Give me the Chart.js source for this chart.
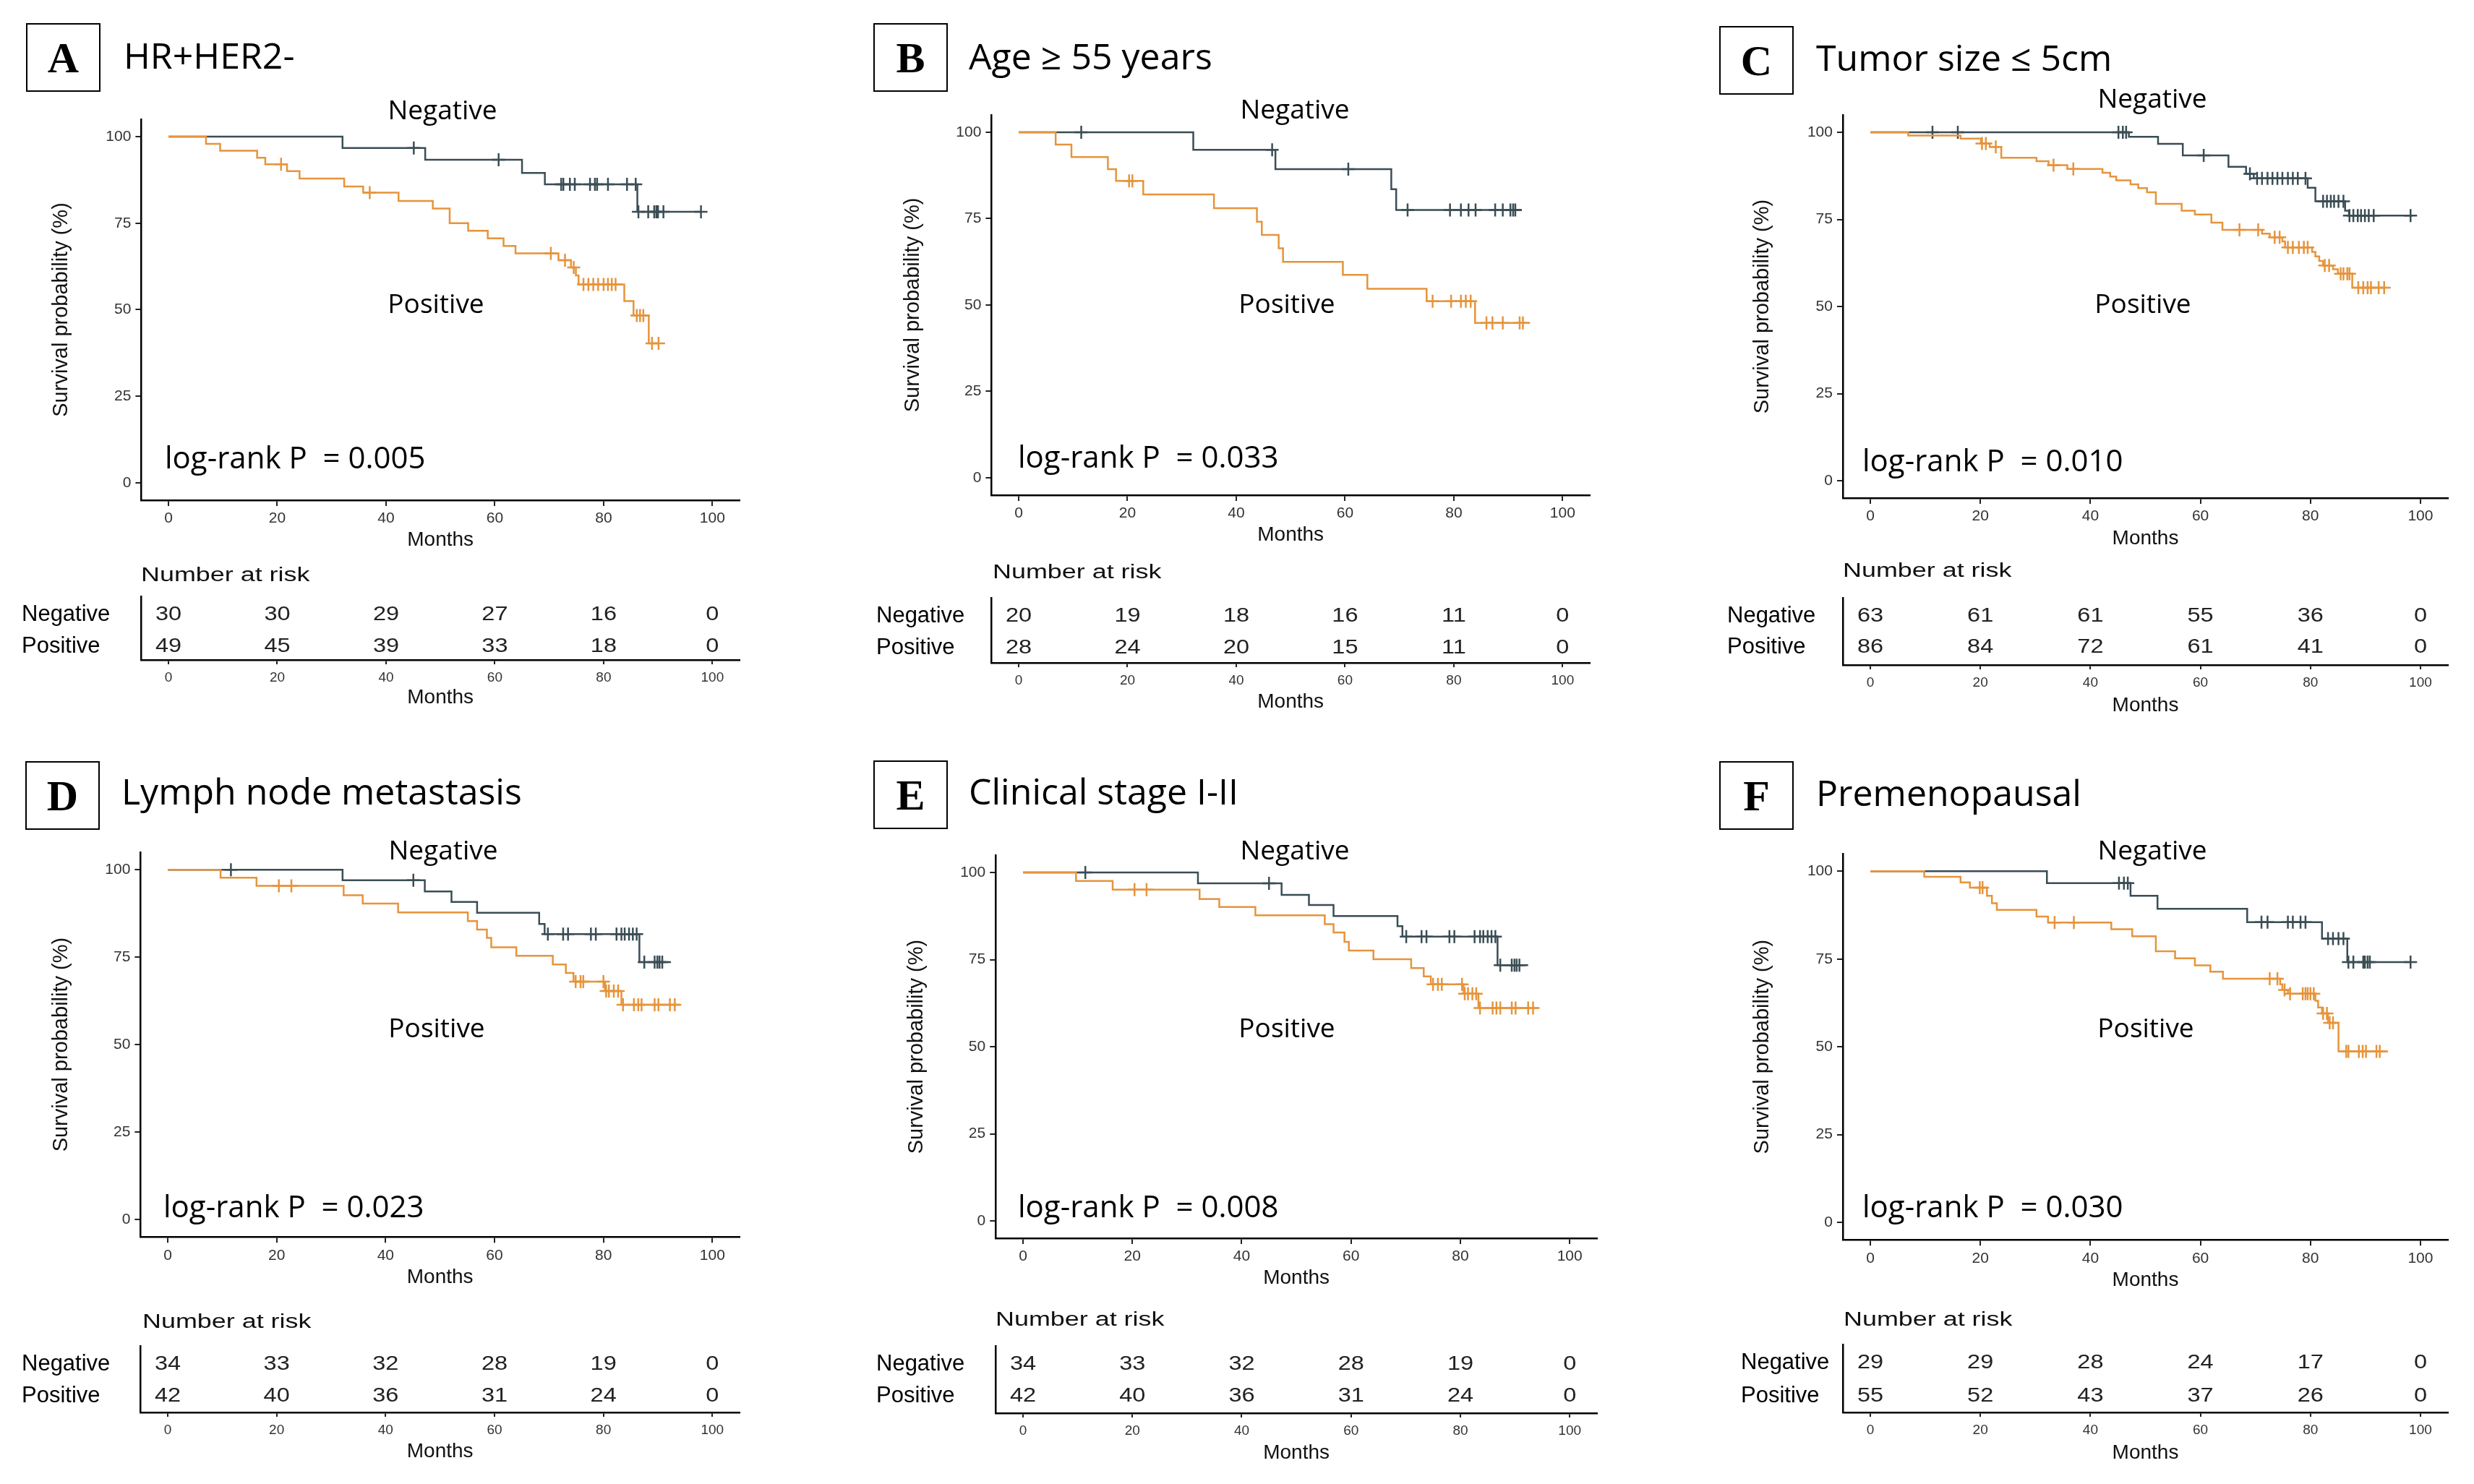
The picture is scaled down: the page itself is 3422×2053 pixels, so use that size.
<!DOCTYPE html>
<html><head><meta charset="utf-8">
<script src="https://cdn.jsdelivr.net/npm/chart.js@4.4.1/dist/chart.umd.min.js"></script>
<style>
html,body{margin:0;padding:0;background:#fff;}
#root{position:relative;width:3422px;height:2053px;overflow:hidden;background:#fff;}
.t{position:absolute;white-space:pre;color:#000;line-height:1;}
.box{position:absolute;border:2.5px solid #000;box-sizing:border-box;display:flex;align-items:center;justify-content:center;font-family:"Liberation Serif";font-weight:bold;font-size:60px;color:#000;line-height:1;}
.title{font-family:"Open Sans";font-size:50px;transform:translateY(-50%);}
.ann{font-family:"Open Sans";font-size:37px;transform:translate(-50%,-50%);}
.lr{font-family:"Open Sans";font-size:42px;transform:translateY(-50%);}
.nar{font-family:"Liberation Sans";font-size:27px;transform-origin:0 50%;transform:translateY(-50%) scaleX(1.33);color:#111;}
canvas{position:absolute;}
</style></head><body><div id="root"></div>
<script>
// ---------- data ----------
const panelLetters = ['A','B','C','D','E','F'];
const panelTitles = ['HR+HER2-','Age \u2265 55 years','Tumor size \u2264 5cm','Lymph node metastasis','Clinical stage I-II','Premenopausal'];
const logRankP = ['0.005','0.033','0.010','0.023','0.008','0.030'];
const groupNames = ['Negative','Positive'];
const xTicks = [0,20,40,60,80,100];
const yTicks = [0,25,50,75,100];
const riskTimes = [0,20,40,60,80,100];

const riskNeg = [[30,30,29,27,16,0],[20,19,18,16,11,0],[63,61,61,55,36,0],[34,33,32,28,19,0],[34,33,32,28,19,0],[29,29,28,24,17,0]];
const riskPos = [[49,45,39,33,18,0],[28,24,20,15,11,0],[86,84,72,61,41,0],[42,40,36,31,24,0],[42,40,36,31,24,0],[55,52,43,37,26,0]];

// Panel A
const negTimesA = [32.0,47.2,65.0,69.2,86.2];
const negSurvA  = [96.7,93.3,89.5,86.2,78.3];
const negCensA  = [45.1,60.7,72.2,72.6,73.8,74.7,77.5,78.4,78.8,80.8,84.3,85.9,86.4,88.2,89.3,89.7,90.0,91.0,97.9];
const negEndA = 97.9;
const posTimesA = [6.9,9.5,16.3,17.8,21.8,24.1,32.3,35.8,42.3,48.6,51.7,55.1,58.7,61.6,63.8,71.7,74.0,74.9,75.4,83.8,85.5,88.3];
const posSurvA  = [97.9,95.9,93.9,92.0,90.0,87.9,85.6,83.8,81.4,79.2,75.0,72.8,70.6,68.4,66.3,64.3,62.2,59.9,57.3,52.5,48.3,40.3];
const posCensA  = [20.7,37.0,70.3,72.9,74.5,76.3,77.2,78.1,79.0,80.0,80.8,81.5,82.2,86.1,86.7,87.3,88.9,90.1];
const posEndA = 90.1;
// Panel B
const negTimesB = [32.1,47.2,68.5,69.4];
const negSurvB  = [94.9,89.3,83.5,77.5];
const negCensB  = [11.5,46.6,60.6,71.5,79.3,81.3,82.7,84.0,87.6,89.0,90.4,90.9,91.3];
const negEndB = 92.5;
const posTimesB = [6.8,9.7,16.4,17.9,22.9,35.9,43.8,44.7,47.8,48.6,59.6,64.1,75.0,83.9];
const posSurvB  = [96.4,92.8,89.3,85.9,82.0,78.0,74.1,70.3,66.4,62.5,58.7,54.7,51.1,44.8];
const posCensB  = [20.3,20.9,76.1,79.5,81.3,82.2,83.1,86.0,87.1,89.0,92.1,92.7];
const posEndB = 94.0;
// Panel C
const negTimesC = [47.0,52.3,56.8,65.1,68.3,69.7,79.5,80.9,86.3,87.0];
const negSurvC  = [98.7,96.7,93.4,90.1,88.1,86.8,84.1,80.2,77.5,76.1];
const negCensC  = [11.3,15.9,45.1,45.9,46.5,60.6,69.0,70.3,71.2,72.2,73.1,74.0,74.9,75.9,76.8,77.7,79.1,82.3,83.0,83.7,84.3,85.1,86.0,87.1,87.8,88.6,89.2,89.9,90.6,91.5,98.2];
const negEndC = 98.6;
const posTimesC = [6.9,16.4,20.1,21.7,23.8,30.2,32.4,35.8,42.2,43.6,44.7,47.3,48.7,50.3,51.9,56.6,59.0,62.0,64.0,71.2,72.6,74.9,75.4,80.3,80.9,81.6,82.3,84.1,85.0,87.6];
const posSurvC  = [99.1,98.2,96.8,95.8,92.7,91.7,90.6,89.5,88.4,87.3,86.2,85.1,84.0,82.8,79.5,77.5,76.4,74.1,72.0,70.9,69.9,68.7,67.0,65.7,64.4,63.1,61.8,60.7,59.4,55.4];
const posCensC  = [20.3,21.0,22.8,33.3,36.9,67.1,70.5,73.5,74.4,75.9,76.8,77.9,78.8,79.5,82.6,83.4,85.5,86.0,86.7,87.1,88.7,89.6,90.4,91.0,92.4,93.4];
const posEndC = 93.9;
// Panel D
const negTimesD = [32.1,47.2,52.1,56.8,68.2,69.2,86.6];
const negSurvD  = [97.0,93.8,90.8,87.7,84.5,81.6,73.6];
const negCensD  = [11.6,45.1,69.8,72.6,73.5,77.7,78.6,82.4,83.3,83.9,84.7,85.4,86.1,87.5,89.4,89.9,90.3,90.8];
const negEndD = 92.4;
const posTimesD = [9.7,16.3,32.3,35.8,42.3,55.1,56.8,58.6,59.4,64.0,70.7,73.1,74.5,80.3,83.3];
const posSurvD  = [97.7,95.4,92.7,90.3,87.8,85.3,82.9,80.5,77.8,75.4,72.9,70.5,68.0,65.3,61.4];
const posCensD  = [20.4,22.7,74.9,75.8,76.3,80.0,80.5,81.0,81.9,82.7,83.6,85.6,86.4,87.0,89.4,90.1,92.2,93.1];
const posEndD = 94.0;
// Panel E
const negTimesE = [32.0,47.3,52.3,56.8,68.5,69.4,86.8];
const negSurvE  = [96.9,93.6,90.7,87.5,84.6,81.6,73.4];
const negCensE  = [11.4,45.0,70.1,72.9,73.8,78.0,78.9,82.6,83.6,84.2,85.0,85.7,86.4,87.3,89.4,89.9,90.3,90.8];
const negEndE = 92.4;
const posTimesE = [9.7,16.4,32.3,35.9,42.5,55.2,56.8,58.8,59.6,64.1,71.0,73.3,74.6,80.6,83.3];
const posSurvE  = [97.6,95.1,92.4,90.1,87.7,85.2,82.8,80.1,77.6,75.1,72.6,70.2,67.9,65.2,61.1];
const posCensE  = [20.4,22.6,75.0,75.9,76.6,80.3,80.8,81.4,82.2,82.9,83.6,85.9,86.6,87.3,89.4,90.1,92.4,93.3];
const posEndE = 94.2;
// Panel F
const negTimesF = [32.1,47.3,52.2,68.5,82.1,86.7];
const negSurvF  = [96.6,93.0,89.3,85.5,80.8,74.1];
const negCensF  = [45.2,46.1,46.8,71.1,72.2,75.9,76.8,78.2,79.1,83.2,84.1,85.1,86.0,86.9,87.8,89.6,89.9,90.4,90.8,98.2];
const negEndF = 98.2;
const posTimesF = [9.8,16.4,18.1,21.2,22.1,23.0,30.2,32.3,43.8,47.6,51.9,55.4,59.0,61.8,64.1,74.5,74.9,75.9,80.9,81.4,82.1,83.2,85.1];
const posSurvF  = [98.4,96.8,95.3,93.0,90.9,89.0,87.1,85.4,83.5,81.5,77.2,75.2,73.2,71.4,69.4,67.8,66.2,65.1,63.1,61.2,59.5,56.8,48.7];
const posCensF  = [19.9,20.4,33.5,37.0,72.6,74.0,75.3,76.3,78.6,79.1,79.5,80.0,80.6,82.3,83.0,83.5,84.1,86.5,86.9,88.8,89.5,90.1,92.0,92.6];
const posEndF = 94.1;

const negTimes = [negTimesA,negTimesB,negTimesC,negTimesD,negTimesE,negTimesF];
const negSurv  = [negSurvA,negSurvB,negSurvC,negSurvD,negSurvE,negSurvF];
const negCens  = [negCensA,negCensB,negCensC,negCensD,negCensE,negCensF];
const negEnd   = [negEndA,negEndB,negEndC,negEndD,negEndE,negEndF];
const posTimes = [posTimesA,posTimesB,posTimesC,posTimesD,posTimesE,posTimesF];
const posSurv  = [posSurvA,posSurvB,posSurvC,posSurvD,posSurvE,posSurvF];
const posCens  = [posCensA,posCensB,posCensC,posCensD,posCensE,posCensF];
const posEnd   = [posEndA,posEndB,posEndC,posEndD,posEndE,posEndF];

// ---------- layout (pixels) ----------
const geo = [
 {x0:233,x100:985,y100:189,y0:668,yT:85,box:[36,32],tX:171,tY:76,neg:[612,150],pos:[603,418],lr:[228,632],mY:747,narX:195,narY:795,rlX:30,rN:850,rP:894,tl:913,tm:965},
 {x0:1409,x100:2161,y100:183,y0:661,yT:1263,box:[1208,32],tX:1340,tY:77,neg:[1791,149],pos:[1780,418],lr:[1408,631],mY:740,narX:1373,narY:791,rlX:1212,rN:852,rP:896,tl:917,tm:971},
 {x0:2587,x100:3348,y100:183,y0:665,yT:2438,box:[2378,36],tX:2512,tY:79,neg:[2977,134],pos:[2964,418],lr:[2576,636],mY:745,narX:2549,narY:789,rlX:2389,rN:852,rP:895,tl:920,tm:976},
 {x0:232,x100:985,y100:1203,y0:1687,yT:85,box:[35,1053],tX:168,tY:1094,neg:[613,1174],pos:[604,1420],lr:[226,1668],mY:1767,narX:197,narY:1828,rlX:30,rN:1887,rP:1931,tl:1954,tm:2008},
 {x0:1415,x100:2171,y100:1207,y0:1689,yT:1268,box:[1208,1052],tX:1340,tY:1094,neg:[1791,1174],pos:[1780,1420],lr:[1408,1668],mY:1768,narX:1377,narY:1825,rlX:1212,rN:1887,rP:1931,tl:1955,tm:2010},
 {x0:2587,x100:3348,y100:1205,y0:1691,yT:2438,box:[2378,1053],tX:2512,tY:1096,neg:[2977,1174],pos:[2968,1420],lr:[2576,1668],mY:1771,narX:2550,narY:1825,rlX:2408,rN:1885,rP:1931,tl:1954,tm:2010}
];
const NEG_COLOR = '#3a4d55';
const POS_COLOR = '#e6943c';
const TOP_PAD = 32; // room so Chart.js label padding never shifts the plot area
const root = document.getElementById('root');

function addText(cls, txt, x, y){
  const d = document.createElement('div');
  d.className = 't ' + cls; d.textContent = txt;
  d.style.left = x + 'px'; d.style.top = y + 'px';
  root.appendChild(d); return d;
}
function makeCanvas(l,t,w,h){
  const c = document.createElement('canvas');
  c.width = Math.round(w); c.height = Math.round(h);
  c.style.left = Math.round(l)+'px'; c.style.top = Math.round(t)+'px';
  c.style.width = Math.round(w)+'px'; c.style.height = Math.round(h)+'px';
  root.appendChild(c); return c;
}
function survAt(times, surv, t){ let s = 100; for (let k=0;k<times.length;k++){ if (times[k] <= t) s = surv[k]; } return s; }
function stepPts(times, surv, end){
  const p = [{x:0,y:100}];
  times.forEach((t,k)=>p.push({x:t,y:surv[k]}));
  p.push({x:end,y:surv[surv.length-1]});
  return p;
}
function censPts(times, surv, cens){ return cens.map(t=>({x:t,y:survAt(times,surv,t)})); }

function axisCommon(tickLen){
  return {
    border:{display:true,color:'#000',width:2.5},
    grid:{display:true,drawOnChartArea:false,drawTicks:true,tickLength:tickLen,color:'#222',lineWidth:2},
  };
}

function kmChart(i){
  const g = geo[i];
  const sx = (g.x100-g.x0)/100, sy = (g.y0-g.y100)/100;
  const aL = g.x0-5*sx, aR = g.x100+5*sx, aT = g.y100-5*sy, aB = g.y0+5*sy;
  const cL = g.yT-30, cT = aT-TOP_PAD, cR = aR+15, cB = g.mY+25;
  const cv = makeCanvas(cL,cT,cR-cL,cB-cT);
  const titleFont = {family:'Liberation Sans',size:29};
  new Chart(cv,{
    type:'line',
    data:{datasets:[
      {data:stepPts(posTimes[i],posSurv[i],posEnd[i]),borderColor:POS_COLOR,borderWidth:2.5,pointRadius:0,stepped:'before',fill:false},
      {data:censPts(posTimes[i],posSurv[i],posCens[i]),showLine:false,pointStyle:'cross',pointRadius:9,pointBorderWidth:2.5,borderColor:POS_COLOR,pointBorderColor:POS_COLOR},
      {data:stepPts(negTimes[i],negSurv[i],negEnd[i]),borderColor:NEG_COLOR,borderWidth:2.5,pointRadius:0,stepped:'before',fill:false},
      {data:censPts(negTimes[i],negSurv[i],negCens[i]),showLine:false,pointStyle:'cross',pointRadius:9,pointBorderWidth:2.5,borderColor:NEG_COLOR,pointBorderColor:NEG_COLOR}
    ]},
    options:{
      responsive:false,animation:false,devicePixelRatio:1,
      layout:{padding:{left:0,top:TOP_PAD,right:cR-aR,bottom:0}},
      plugins:{legend:{display:false},tooltip:{enabled:false}},
      elements:{line:{tension:0}},
      scales:{
        x:Object.assign(axisCommon(8),{type:'linear',min:-5,max:105,
          afterBuildTicks:s=>{s.ticks = xTicks.map(v=>({value:v}));},
          afterFit:s=>{s.height = cB-aB;},
          ticks:{font:{family:'Liberation Sans',size:21},color:'#333',padding:5,maxRotation:0,autoSkip:false},
          title:{display:true,text:'Months',font:{family:'Liberation Sans',size:28},color:'#111',padding:{top:0,bottom:25-28*0.6}}}),
        y:Object.assign(axisCommon(8),{type:'linear',min:-5,max:105,
          afterBuildTicks:s=>{s.ticks = yTicks.map(v=>({value:v}));},
          afterFit:s=>{s.width = aL-cL;},
          ticks:{font:{family:'Liberation Sans',size:21},color:'#333',padding:6,autoSkip:false},
          title:{display:true,text:'Survival probability (%)',font:titleFont,color:'#111',padding:{top:30-titleFont.size*0.6,bottom:0}}})
      }
    }
  });
}

const riskLabelPlugin = {
  id:'riskLabels',
  afterDatasetsDraw(chart){
    const ctx = chart.ctx;
    chart.data.datasets.forEach((ds,di)=>{
      const meta = chart.getDatasetMeta(di);
      meta.data.forEach((el,k)=>{
        ctx.save();
        ctx.font = '28px "Liberation Sans"';
        ctx.fillStyle = '#222'; ctx.textAlign = 'center'; ctx.textBaseline = 'middle';
        ctx.translate(el.x, el.y);
        ctx.scale(1.16, 1);
        ctx.fillText(String(ds.data[k].n), 0, 0);
        ctx.restore();
      });
    });
  }
};

function riskChart(i){
  const g = geo[i];
  const sx = (g.x100-g.x0)/100;
  const aL = g.x0-5*sx, aR = g.x100+5*sx;
  const unit = g.rP-g.rN;
  const aT = g.rN-25, aB = g.tl;
  const yMax = 2 + (g.rN-aT)/unit, yMin = 1 - (aB-g.rP)/unit;
  const cL = g.rlX, cT = aT-TOP_PAD, cR = aR+15, cB = g.tm+25;
  const cv = makeCanvas(cL,cT,cR-cL,cB-cT);
  const titleFont = {family:'Liberation Sans',size:28};
  const rows = [riskNeg[i], riskPos[i]];
  new Chart(cv,{
    type:'line',
    data:{datasets:rows.map((r,ri)=>({
      data:riskTimes.map((t,k)=>({x:t,y:2-ri,n:r[k]})),showLine:false,pointRadius:0
    }))},
    plugins:[riskLabelPlugin],
    options:{
      responsive:false,animation:false,devicePixelRatio:1,
      layout:{padding:{left:0,top:TOP_PAD,right:cR-aR,bottom:0}},
      plugins:{legend:{display:false},tooltip:{enabled:false}},
      scales:{
        x:Object.assign(axisCommon(6),{type:'linear',min:-5,max:105,
          afterBuildTicks:s=>{s.ticks = xTicks.map(v=>({value:v}));},
          afterFit:s=>{s.height = cB-aB;},
          ticks:{font:{family:'Liberation Sans',size:19},color:'#333',padding:7,maxRotation:0,autoSkip:false},
          title:{display:true,text:'Months',font:titleFont,color:'#111',padding:{top:0,bottom:25-titleFont.size*0.6}}}),
        y:{type:'linear',min:yMin,max:yMax,
          border:{display:true,color:'#000',width:2.5},
          grid:{display:false,drawTicks:false},
          afterBuildTicks:s=>{s.ticks = [{value:2},{value:1}];},
          afterFit:s=>{s.width = aL-cL;},
          ticks:{font:{family:'Liberation Sans',size:31},color:'#000',crossAlign:'far',padding:0,autoSkip:false,
            callback:v=>v===2?groupNames[0]:(v===1?groupNames[1]:'')}}
      }
    }
  });
}

for (let i=0;i<6;i++){
  const g = geo[i];
  const b = document.createElement('div');
  b.className='box'; b.textContent = panelLetters[i];
  b.style.left=g.box[0]+'px'; b.style.top=g.box[1]+'px'; b.style.width='103px'; b.style.height='95px';
  root.appendChild(b);
  addText('title', panelTitles[i], g.tX, g.tY);
  kmChart(i);
  riskChart(i);
  addText('ann', groupNames[0], g.neg[0], g.neg[1]);
  addText('ann', groupNames[1], g.pos[0], g.pos[1]);
  addText('lr', 'log-rank P  = ' + logRankP[i], g.lr[0], g.lr[1]);
  addText('nar', 'Number at risk', g.narX, g.narY);
}
</script>
</body></html>
